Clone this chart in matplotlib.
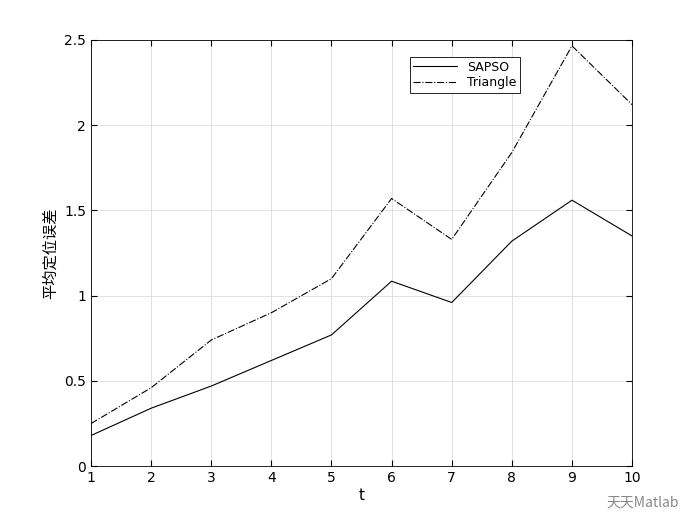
import numpy as np
import matplotlib.pyplot as plt

plt.rcParams['font.family'] = ['DejaVu Sans', 'Noto Sans CJK SC']

t = [1, 2, 3, 4, 5, 6, 7, 8, 9, 10]
sapso = [0.18, 0.34, 0.47, 0.62, 0.77, 1.085, 0.96, 1.32, 1.56, 1.35]
triangle = [0.25, 0.46, 0.74, 0.90, 1.10, 1.57, 1.33, 1.84, 2.465, 2.12]

fig = plt.figure(figsize=(7, 5.25), dpi=100)
ax = fig.add_axes([0.13, 0.112, 0.773, 0.812])

ax.plot(t, sapso, '-', color='black', linewidth=0.8, label='SAPSO')
ax.plot(t, triangle, '-.', color='black', linewidth=0.8, label='Triangle')

ax.set_xlim(1, 10)
ax.set_ylim(0, 2.5)
ax.set_xticks(t)
ax.set_yticks([0, 0.5, 1, 1.5, 2, 2.5])
ax.set_yticklabels(['0', '0.5', '1', '1.5', '2', '2.5'])
ax.grid(True, color='#dcdcdc', linewidth=0.6)
ax.tick_params(direction='in', labelsize=10, length=4, top=True, right=True, labeltop=False, labelright=False)
for s in ax.spines.values():
    s.set_linewidth(0.6)

ax.set_xlabel('t', fontsize=11, labelpad=2)
ax.set_ylabel('平均定位误差', fontsize=11, family=['Noto Sans CJK SC'])

leg = ax.legend(loc='upper right', bbox_to_anchor=(0.805, 0.975), fontsize=9,
                fancybox=False, edgecolor='black', framealpha=1,
                handlelength=3.5, borderpad=0.3, labelspacing=0.2)
leg.get_frame().set_linewidth(0.6)

fig.text(0.97, 0.03, '天天Matlab', ha='right', va='bottom', fontsize=10,
         color='#888888', family=['Noto Sans CJK SC'])

fig.savefig('out.png', dpi=100)
